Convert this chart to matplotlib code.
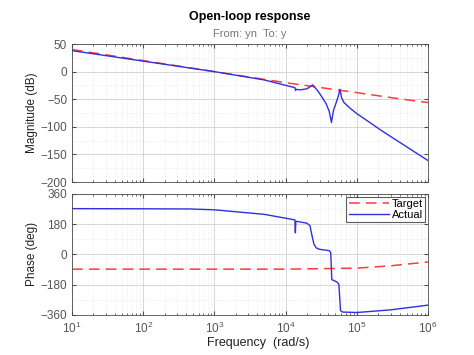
import numpy as np
import matplotlib
matplotlib.use("Agg")
import matplotlib.pyplot as plt
from matplotlib.ticker import LogLocator, FixedLocator, NullFormatter

plt.rcParams['font.family'] = ['Liberation Sans', 'DejaVu Sans']

# target loop shape
target_w = [1e1, 1e2, 1e3, 1e4, 1e5, 3e5, 1e6]
target_mag = [40, 20, 0, -20, -38, -47, -56]
target_ph = [-88, -88, -88, -88, -82, -68, -45]

# actual open-loop response
mag_w = [1e1, 1e2, 1e3, 5e3, 1.35e4, 1.38e4, 1.41e4, 1.6e4, 2.0e4, 2.4e4, 2.8e4,
         3.2e4, 3.7e4, 4.1e4, 4.4e4, 4.7e4, 5.1e4, 5.5e4, 5.8e4, 6.1e4, 6.6e4,
         8e4, 1e5, 2.3e5, 5e5, 1e6]
mag_db = [38, 19, 0, -15, -29, -34, -32, -33, -31, -24, -34,
          -45, -58, -72, -92, -70, -57, -44, -32, -47, -56,
          -66, -76, -108, -136, -161]

ph_w = [1e1, 1e2, 4.5e2, 1e3, 5e3, 1.35e4, 1.37e4, 1.39e4, 1.45e4, 2.0e4, 2.2e4,
        2.35e4, 2.5e4, 2.7e4, 3.0e4, 4.1e4, 4.3e4, 4.45e4, 5.3e4, 5.6e4, 5.9e4,
        6.3e4, 1e5, 3e5, 1e6]
ph_deg = [272, 271, 270, 265, 238, 205, 128, 195, 196, 185, 170,
          110, 60, 38, 30, 22, 10, -150, -165, -180, -335,
          -343, -346, -330, -302]

fig = plt.figure(figsize=(4.74, 3.55), dpi=100)
ax1 = fig.add_axes([0.152, 0.487, 0.751, 0.389])
ax2 = fig.add_axes([0.152, 0.113, 0.751, 0.341])

red = '#ff3b3b'
blue = '#3030e0'
edge = '#4d4d4d'
lab = '#555555'

ax1.semilogx(target_w, target_mag, '--', color=red, lw=1.1, dashes=(7, 4))
ax1.semilogx(mag_w, mag_db, '-', color=blue, lw=1.0)
ax2.semilogx(target_w, target_ph, '--', color=red, lw=1.1, dashes=(7, 4), label='Target')
ax2.semilogx(ph_w, ph_deg, '-', color=blue, lw=1.0, label='Actual')

ax1.set_ylim(-200, 50)
ax1.set_yticks([-200, -150, -100, -50, 0, 50])
ax2.set_ylim(-360, 360)
ax2.set_yticks([-360, -180, 0, 180, 360])

for ax in (ax1, ax2):
    ax.set_xlim(1e1, 1e6)
    ax.xaxis.set_major_locator(LogLocator(base=10, numticks=10))
    ax.xaxis.set_minor_locator(LogLocator(base=10, subs=np.arange(2, 10), numticks=20))
    ax.xaxis.set_minor_formatter(NullFormatter())
    ax.grid(True, which='major', color='#d0d0d0', lw=0.6)
    ax.grid(True, which='minor', axis='x', color='#e2e2e2', lw=0.5, ls=':')
    ax.set_axisbelow(True)
    ax.tick_params(which='both', direction='in', top=True, right=True,
                   colors=edge, labelcolor=lab, labelsize=8.5)
    ax.tick_params(which='major', length=3)
    ax.tick_params(which='minor', length=1.5)
    for s in ax.spines.values():
        s.set_color(edge)
        s.set_linewidth(0.6)

# minor y grid
ax1.yaxis.set_minor_locator(FixedLocator(np.arange(-200, 51, 25)))
ax1.grid(True, which='minor', axis='y', color='#e2e2e2', lw=0.5, ls=':')
ax2.yaxis.set_minor_locator(FixedLocator(np.arange(-360, 361, 90)))
ax2.grid(True, which='minor', axis='y', color='#e2e2e2', lw=0.5, ls=':')
ax1.tick_params(axis='y', which='minor', length=0)
ax2.tick_params(axis='y', which='minor', length=0)

ax1.tick_params(axis='x', labelbottom=False)
ax2.tick_params(axis='x', pad=4)

ax1.set_ylabel('Magnitude (dB)', fontsize=8.5, color='#222222', labelpad=2)
ax2.set_ylabel('Phase (deg)', fontsize=8.5, color='#222222', labelpad=2)
ax2.set_xlabel('Frequency  (rad/s)', fontsize=9, color='#222222')
ax2.xaxis.set_label_coords(0.522, -0.185)

fig.text(0.527, 0.952, 'Open-loop response', ha='center', va='center',
         fontsize=9, fontweight='bold')
fig.text(0.527, 0.905, 'From: yn  To: y', ha='center', va='center',
         fontsize=8, color='#777777')

leg = ax2.legend(loc='upper right', fontsize=8, frameon=True, fancybox=False,
                 borderaxespad=0.25, handlelength=3.6, borderpad=0.2,
                 labelspacing=0.1, handletextpad=0.3)
leg.get_frame().set_edgecolor('#333333')
leg.get_frame().set_linewidth(0.8)

fig.savefig('out.png', dpi=100)
